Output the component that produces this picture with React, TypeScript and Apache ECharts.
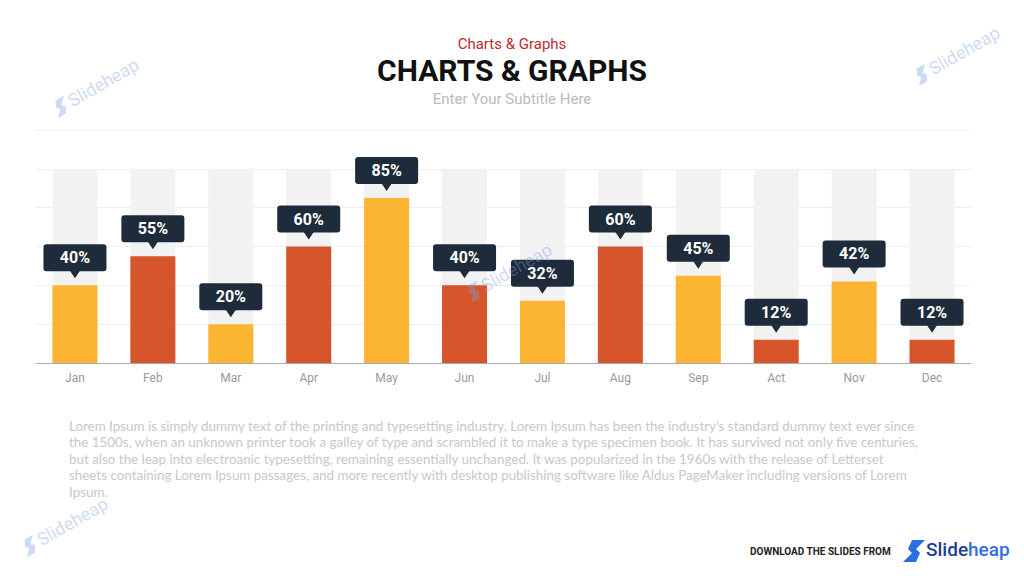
import React, { useEffect, useRef } from "react";
import * as echarts from "echarts";

const months = ["Jan", "Feb", "Mar", "Apr", "May", "Jun", "Jul", "Aug", "Sep", "Act", "Nov", "Dec"];
const values = [40, 55, 20, 60, 85, 40, 32, 60, 45, 12, 42, 12];
const trackValues = [100, 100, 100, 100, 100, 100, 100, 100, 100, 100, 100, 100];
const palette = ["#FBB532", "#D6552B"];
const paragraphLines = [
  "Lorem Ipsum is simply dummy text of the printing and typesetting industry. Lorem Ipsum has been the industry's standard dummy text ever since",
  "the 1500s, when an unknown printer took a galley of type and scrambled it to make a type specimen book. It has survived not only five centuries,",
  "but also the leap into electroanic typesetting, remaining essentially unchanged. It was popularized in the 1960s with the release of Letterset",
  "sheets containing Lorem Ipsum passages, and more recently with desktop publishing software like Aldus PageMaker including versions of Lorem",
  "Ipsum.",
];

const LOGO_D =
  "M9 0 L22 0 L13 9 L17 13 L9 13 L5 9 Z M13 22 L0 22 L9 13 L5 9 L13 9 L17 13 Z";
let registered = false;

export default function App() {
  const ref = useRef<HTMLDivElement>(null);
  useEffect(() => {
    document.body.style.margin = "0";
    if (!registered) {
      echarts.graphic.registerShape("logo", echarts.graphic.extendPath(LOGO_D, {}) as any);
      registered = true;
    }
    const chart = echarts.init(ref.current!, null, { renderer: "svg" });

    const wmColor = "rgba(120,160,228,0.38)";
    const watermark = (x: number, y: number) => ({
      type: "group",
      x,
      y,
      rotation: 0.52,
      silent: true,
      z: 100,
      children: [
        {
          type: "logo",
          x: -50,
          y: -8,
          scaleX: 0.75,
          scaleY: 0.75,
          z: 100,
          style: { fill: wmColor },
        },
        {
          type: "text",
          x: -32,
          y: 0,
          z: 100,
          style: {
            text: "Slideheap",
            font: "18px Roboto, sans-serif",
            fill: wmColor,
            align: "left",
            verticalAlign: "middle",
          },
        },
      ],
    });

    const graphics: any[] = [
      {
        type: "text",
        left: "center",
        top: 36,
        style: { text: "Charts & Graphs", font: "15px Roboto, sans-serif", fill: "#C0282D" },
      },
      {
        type: "text",
        left: "center",
        top: 55,
        style: { text: "CHARTS & GRAPHS", font: "bold 30px Roboto, sans-serif", fill: "#111111" },
      },
      {
        type: "text",
        left: "center",
        top: 91,
        style: { text: "Enter Your Subtitle Here", font: "15px Roboto, sans-serif", fill: "#BBBBBB" },
      },
      ...paragraphLines.map((t, i) => ({
        type: "text",
        x: 69,
        y: 419 + i * 16.6,
        style: { text: t, font: "13.4px Lato, sans-serif", fill: "#C8C8C8" },
      })),
      watermark(97, 86),
      watermark(958, 54),
      watermark(510, 271),
      watermark(66, 525),
      {
        type: "text",
        x: 750,
        y: 546,
        style: { text: "DOWNLOAD THE SLIDES FROM", font: "bold 10px Roboto, sans-serif", fill: "#222222" },
      },
      {
        type: "logo",
        x: 903,
        y: 540,
        scaleX: 1,
        scaleY: 1,
        style: { fill: "#2B6FDE" },
      },
      {
        type: "text",
        x: 926,
        y: 540,
        style: {
          text: "{a|Slide}{b|heap}",
          rich: {
            a: { font: "500 19px Roboto, sans-serif", fill: "#1D3D8F" },
            b: { font: "500 19px Roboto, sans-serif", fill: "#2F70D8" },
          },
        },
      },
    ];

    chart.setOption({
      animation: false,
      backgroundColor: "#ffffff",
      grid: { left: 36, right: 53, top: 130, bottom: 213 },
      xAxis: {
        type: "category",
        data: months,
        axisTick: { show: false },
        axisLine: { lineStyle: { color: "#AAAAAA" } },
        axisLabel: { color: "#999999", fontSize: 12, fontFamily: "Roboto, sans-serif", margin: 9 },
      },
      yAxis: {
        type: "value",
        min: 0,
        max: 120,
        interval: 20,
        axisLabel: { show: false },
        axisLine: { show: false },
        axisTick: { show: false },
        splitLine: { lineStyle: { color: "#EEEEEE" } },
      },
      series: [
        {
          type: "bar",
          data: trackValues,
          barWidth: 45,
          barGap: "-100%",
          itemStyle: { color: "#F2F2F2" },
          silent: true,
          z: 1,
        },
        {
          type: "bar",
          data: values.map((v, i) => ({ value: v, itemStyle: { color: palette[i % 2] } })),
          barWidth: 45,
          z: 2,
        },
        {
          type: "custom",
          data: values.map((v, i) => [i, v]),
          z: 5,
          renderItem: (params: any, api: any) => {
            const pt = api.coord([api.value(0), api.value(1)]);
            const cx = pt[0];
            const tipY = pt[1] - 7;
            const boxB = pt[1] - 14;
            const h = 27;
            const w = 63;
            return {
              type: "group",
              children: [
                {
                  type: "rect",
                  shape: { x: cx - w / 2, y: boxB - h, width: w, height: h, r: 3 },
                  style: { fill: "#1E2B3A" },
                },
                {
                  type: "polygon",
                  shape: { points: [[cx - 5, boxB - 0.5], [cx + 5, boxB - 0.5], [cx, tipY]] },
                  style: { fill: "#1E2B3A" },
                },
                {
                  type: "text",
                  x: cx,
                  y: boxB - h / 2,
                  style: {
                    text: api.value(1) + "%",
                    font: "bold 16px Roboto, sans-serif",
                    fill: "#FFFFFF",
                    align: "center",
                    verticalAlign: "middle",
                  },
                },
              ],
            };
          },
        },
      ],
      graphic: graphics,
    });
    return () => chart.dispose();
  }, []);
  return <div ref={ref} style={{ position: "fixed", left: 0, top: 0, width: 1024, height: 576 }} />;
}
